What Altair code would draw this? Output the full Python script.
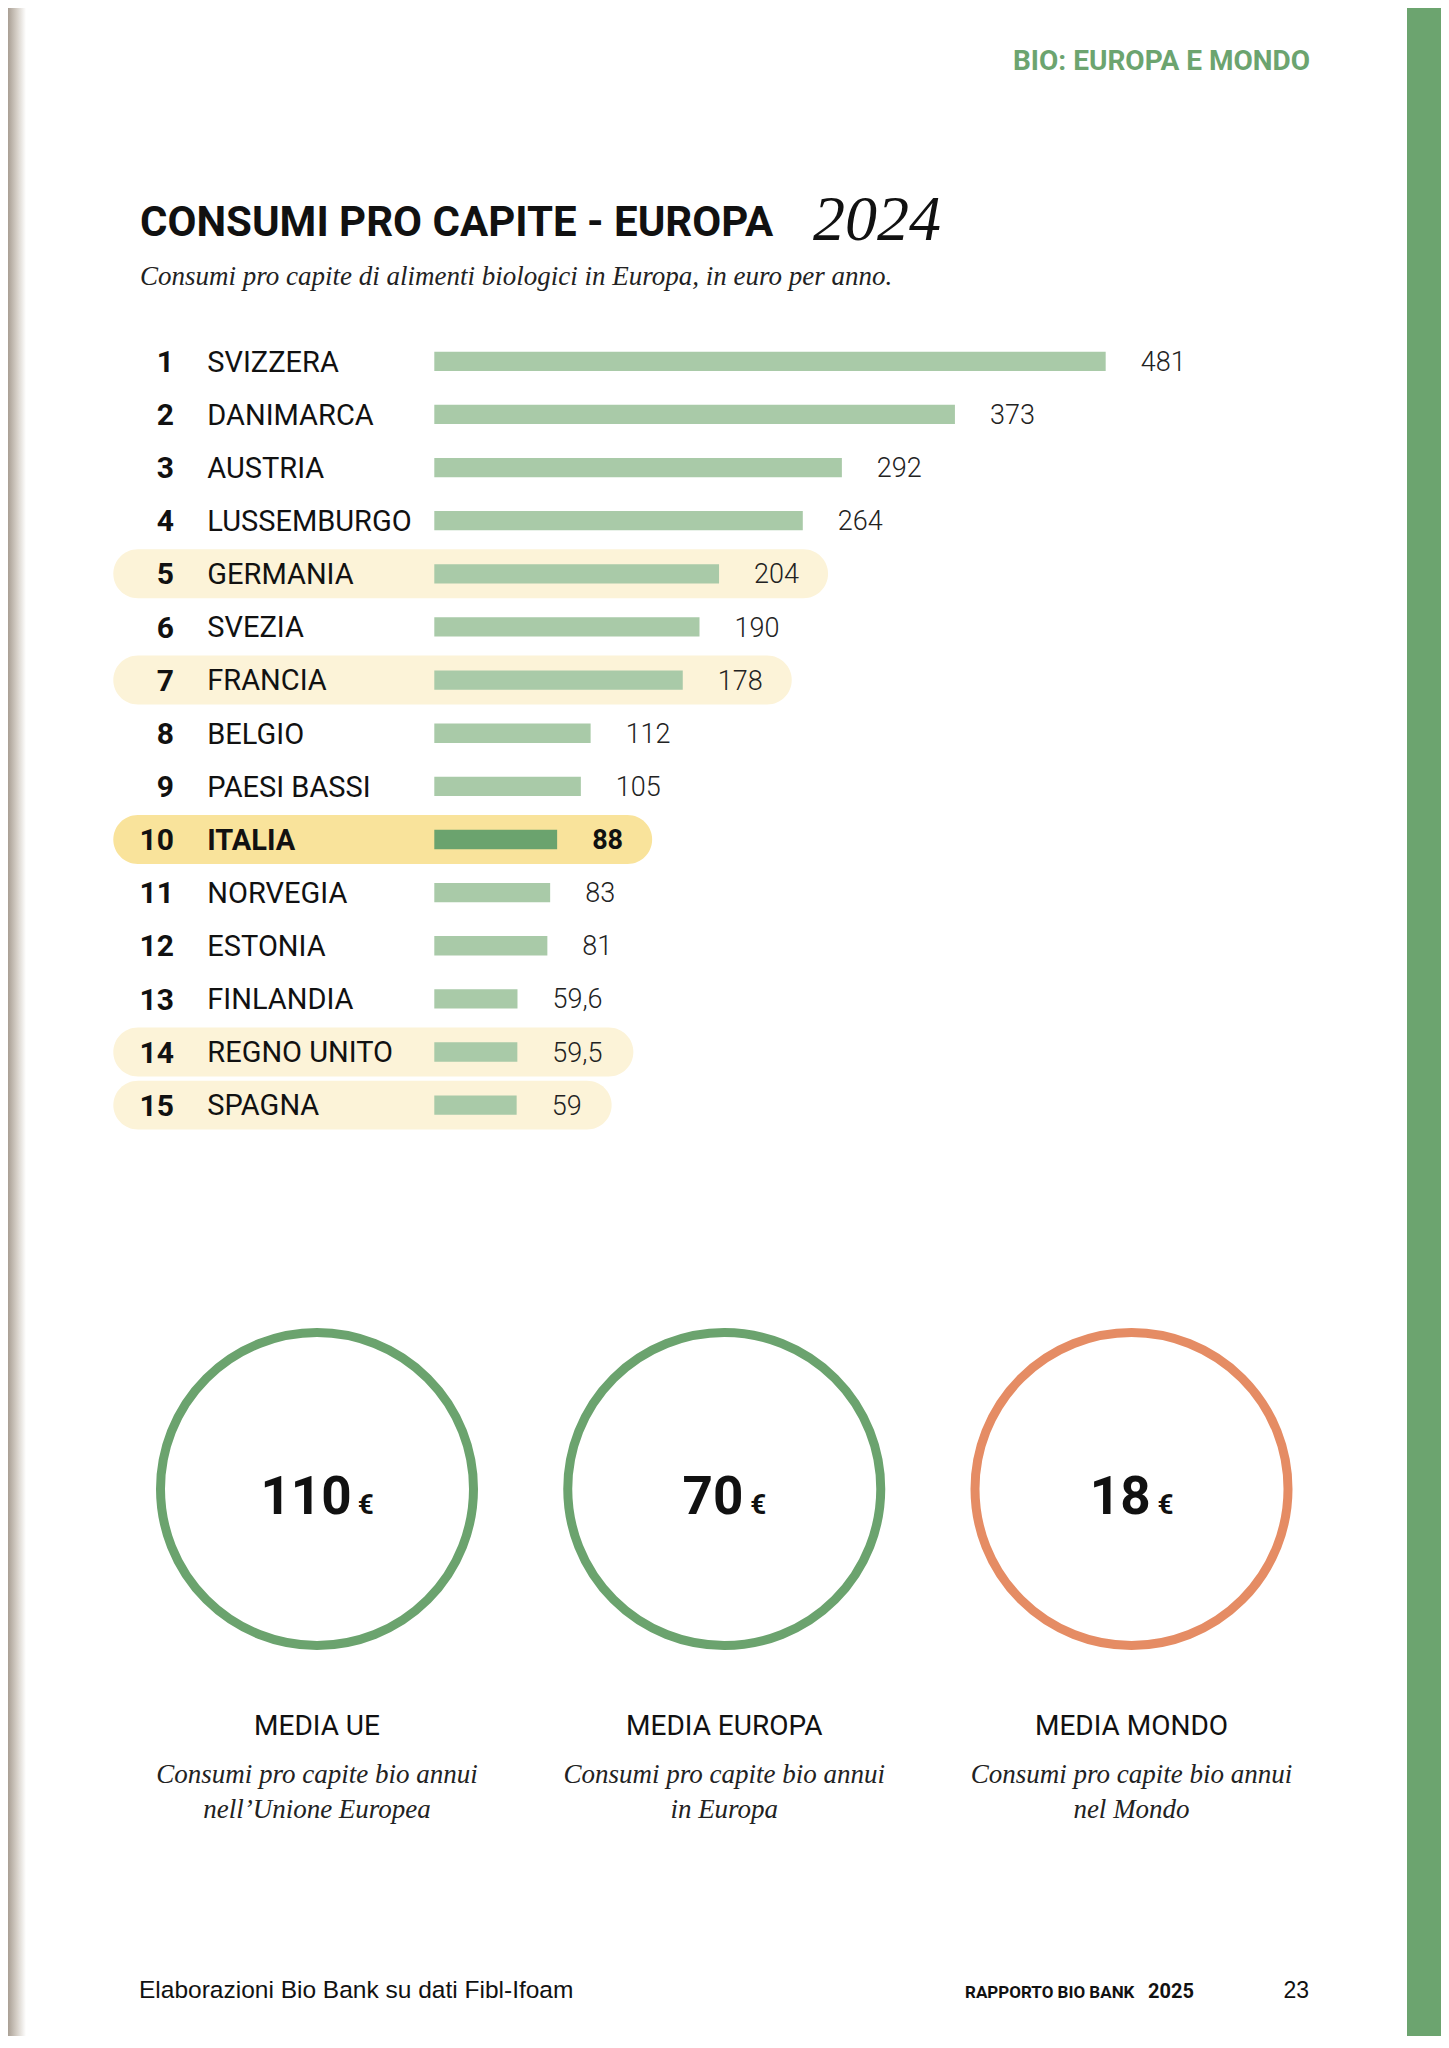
import altair as alt
import pandas as pd

# ---------------- data ----------------
ranks = list(range(1, 16))
countries = ["SVIZZERA", "DANIMARCA", "AUSTRIA", "LUSSEMBURGO", "GERMANIA", "SVEZIA",
             "FRANCIA", "BELGIO", "PAESI BASSI", "ITALIA", "NORVEGIA", "ESTONIA",
             "FINLANDIA", "REGNO UNITO", "SPAGNA"]
values = [481, 373, 292, 264, 204, 190, 178, 112, 105, 88, 83, 81, 59.6, 59.5, 59]
highlight = ["", "", "", "", "hl", "", "hl", "", "", "it", "", "", "", "hl", "hl"]

avg_names = ["MEDIA UE", "MEDIA EUROPA", "MEDIA MONDO"]
avg_values = [110, 70, 18]
avg_captions = ["Consumi pro capite bio annui\nnell\u2019Unione Europea",
                "Consumi pro capite bio annui\nin Europa",
                "Consumi pro capite bio annui\nnel Mondo"]
avg_colors = ["#6BA36E", "#6BA36E", "#E58C64"]

# ---------------- layout constants ----------------
W, H = 1433, 2028
PX_PER_UNIT = 1.3958
ZERO_X = 426.3
XMIN = -ZERO_X / PX_PER_UNIT
XMAX = (W - ZERO_X) / PX_PER_UNIT
ROW0_Y, ROW_STEP = 353.3, 53.13
YMIN = 1 - ROW0_Y / ROW_STEP
YMAX = 1 + (H - ROW0_Y) / ROW_STEP

COND = "Roboto, Liberation Sans, sans-serif"
SERIF = "Liberation Serif, DejaVu Serif, serif"
SANS = "Liberation Sans, Arial, sans-serif"
CAP = 0.711


def fmt(v):
    return str(int(v)) if float(v).is_integer() else str(v).replace(".", ",")


labels = [fmt(v) for v in values]
rows = pd.DataFrame({"rank": ranks, "country": countries, "value": values,
                     "label": labels, "hl": highlight})
rows["zero"] = 0.0
rows["b_lo"] = rows["rank"] - 0.182
rows["b_hi"] = rows["rank"] + 0.182
rows["p_lo"] = rows["rank"] - 0.461
rows["p_hi"] = rows["rank"] + 0.461
rows["pl"] = (105.3 - ZERO_X) / PX_PER_UNIT
lab_w = rows["label"].map(lambda s: sum(7 if c == "," else 14 for c in s))
rows["pr"] = rows["value"] + (35 + lab_w + 32) / PX_PER_UNIT
rows["barc"] = rows["hl"].map(lambda h: "it" if h == "it" else "n")

xs = alt.Scale(domain=[XMIN, XMAX], nice=False, zero=False)
ys = alt.Scale(domain=[YMIN, YMAX], nice=False, zero=False, reverse=True)


def X(f):
    return alt.X(f, type="quantitative", scale=xs, axis=None)


def Y(f):
    return alt.Y(f, type="quantitative", scale=ys, axis=None)


base = alt.Chart(rows)

pills = base.transform_filter("datum.hl != ''").mark_rect(cornerRadius=24.5).encode(
    x=X("pl"), x2=alt.X2("pr"), y=Y("p_lo"), y2=alt.Y2("p_hi"),
    color=alt.Color("hl:N", scale=alt.Scale(domain=["hl", "it"], range=["#FCF3D8", "#F9E39B"]), legend=None),
)

bars = base.mark_rect().encode(
    x=X("zero"), x2=alt.X2("value"), y=Y("b_lo"), y2=alt.Y2("b_hi"),
    color=alt.Color("barc:N", scale=alt.Scale(domain=["n", "it"], range=["#A9CAA8", "#6BA36E"]), legend=None),
)

NAME_FS, RANK_FS, VAL_FS = 29, 30, 27

rank_txt = base.mark_text(font=COND, fontSize=RANK_FS, fontWeight="bold", align="right",
                          baseline="alphabetic", dy=CAP * RANK_FS / 2, color="#111111").encode(
    x=alt.value(166), y=Y("rank"), text="rank:N")

name_reg = base.transform_filter("datum.hl != 'it'").mark_text(
    font=COND, fontSize=NAME_FS, align="left", baseline="alphabetic", dy=CAP * NAME_FS / 2,
    color="#111111").encode(x=alt.value(199.3), y=Y("rank"), text="country:N")
name_it = base.transform_filter("datum.hl == 'it'").mark_text(
    font=COND, fontSize=NAME_FS, fontWeight="bold", align="left", baseline="alphabetic",
    dy=CAP * NAME_FS / 2, color="#111111").encode(x=alt.value(199.3), y=Y("rank"), text="country:N")

val_reg = base.transform_filter("datum.hl != 'it'").mark_text(
    font=COND, fontSize=VAL_FS, fontWeight=300, align="left", baseline="alphabetic", dx=35,
    dy=CAP * VAL_FS / 2, color="#222222").encode(x=X("value"), y=Y("rank"), text="label:N")
val_it = base.transform_filter("datum.hl == 'it'").mark_text(
    font=COND, fontSize=VAL_FS, fontWeight="bold", align="left", baseline="alphabetic", dx=35,
    dy=CAP * VAL_FS / 2, color="#111111").encode(x=X("value"), y=Y("rank"), text="label:N")

# ---------------- circles ----------------
circ = pd.DataFrame({"name": avg_names, "val": [str(v) for v in avg_values],
                     "cap": avg_captions, "idx": [0, 1, 2]})
cx = alt.X("name:N", scale=alt.Scale(domain=avg_names, range=[309, 1123.5], padding=0), axis=None)
cbase = alt.Chart(circ)

CY = 1481
rings = cbase.mark_point(shape="circle", filled=False, size=313 ** 2, strokeWidth=9, opacity=1).encode(
    x=cx, y=alt.value(CY),
    color=alt.Color("name:N", scale=alt.Scale(domain=avg_names, range=avg_colors), legend=None),
)

NUM_FS, EU_FS, GAP = 53, 28, 8
DIG_W = 0.562 * NUM_FS
EU_W = 0.562 * EU_FS
num_layers = []
for i, v in enumerate(avg_values):
    n = len(str(v))
    total = n * DIG_W + GAP + EU_W
    num_layers.append(cbase.transform_filter(f"datum.idx == {i}").mark_text(
        font=COND, fontSize=NUM_FS, fontWeight="bold", align="left", baseline="alphabetic",
        dx=-total / 2, color="#111111").encode(x=cx, y=alt.value(1506), text="val:N"))
    num_layers.append(cbase.transform_filter(f"datum.idx == {i}").mark_text(
        font=COND, fontSize=EU_FS, fontWeight="bold", align="left", baseline="alphabetic",
        dx=-total / 2 + n * DIG_W + GAP, text="\u20ac", color="#111111").encode(
        x=cx, y=alt.value(1506)))

avg_lbl = cbase.mark_text(font=COND, fontSize=28, align="center", baseline="alphabetic",
                          color="#111111").encode(x=cx, y=alt.value(1727), text="name:N")
avg_cap = cbase.mark_text(font=SERIF, fontSize=27, fontStyle="italic", align="center",
                          baseline="alphabetic", lineBreak="\n", lineHeight=35,
                          color="#222222").encode(x=cx, y=alt.value(1775), text="cap:N")

# ---------------- page decorations ----------------
one = alt.Chart(pd.DataFrame({"a": [0]}))

shadow = one.mark_rect(color=alt.LinearGradient(
    gradient="linear", x1=0, x2=1, y1=0, y2=0,
    stops=[alt.GradientStop(color="#A99F94", offset=0),
           alt.GradientStop(color="#D6D0C8", offset=0.5),
           alt.GradientStop(color="#FFFFFF", offset=1)])).encode(
    x=alt.value(0), x2=alt.value(18), y=alt.value(0), y2=alt.value(H))

stripe = one.mark_rect(color="#6CA46F").encode(
    x=alt.value(1399), x2=alt.value(W), y=alt.value(0), y2=alt.value(H))


def txt(s, x, y, **kw):
    return one.mark_text(text=s, baseline="alphabetic", **kw).encode(x=alt.value(x), y=alt.value(y))


header = txt("BIO: EUROPA E MONDO", 1302, 62, font=COND, fontSize=28, fontWeight="bold",
             align="right", color="#6CA46F")
title = txt("CONSUMI PRO CAPITE - EUROPA", 132, 228, font=COND, fontSize=42, fontWeight="bold",
            align="left", color="#111111")
year = txt("2024", 805, 232, font=SERIF, fontSize=64, fontStyle="italic", align="left", color="#111111")
subtitle = txt("Consumi pro capite di alimenti biologici in Europa, in euro per anno.", 132, 277,
               font=SERIF, fontSize=27, fontStyle="italic", align="left", color="#222222")
foot_l = txt("Elaborazioni Bio Bank su dati Fibl-Ifoam", 131, 1990, font=SANS, fontSize=24.5,
             align="left", color="#111111")
foot_m = txt("RAPPORTO BIO BANK", 957, 1990, font=COND, fontSize=17, fontWeight="bold",
             align="left", color="#111111")
foot_y = txt("2025", 1140, 1990, font=COND, fontSize=20, fontWeight="bold", align="left",
             color="#111111")
foot_p = txt("23", 1301, 1990, font=SANS, fontSize=23, align="right", color="#111111")

chart = alt.layer(
    shadow, stripe, header, title, year, subtitle,
    pills, bars, rank_txt, name_reg, name_it, val_reg, val_it,
    rings, *num_layers, avg_lbl, avg_cap,
    foot_l, foot_m, foot_y, foot_p,
).resolve_scale(x="independent", y="independent", color="independent").properties(
    width=W, height=H, padding=0, background="white",
    autosize=alt.AutoSizeParams(type="fit", contains="padding"),
).configure_view(stroke=None)

chart.save("out.html", embed_options={"renderer": "svg", "actions": False})
